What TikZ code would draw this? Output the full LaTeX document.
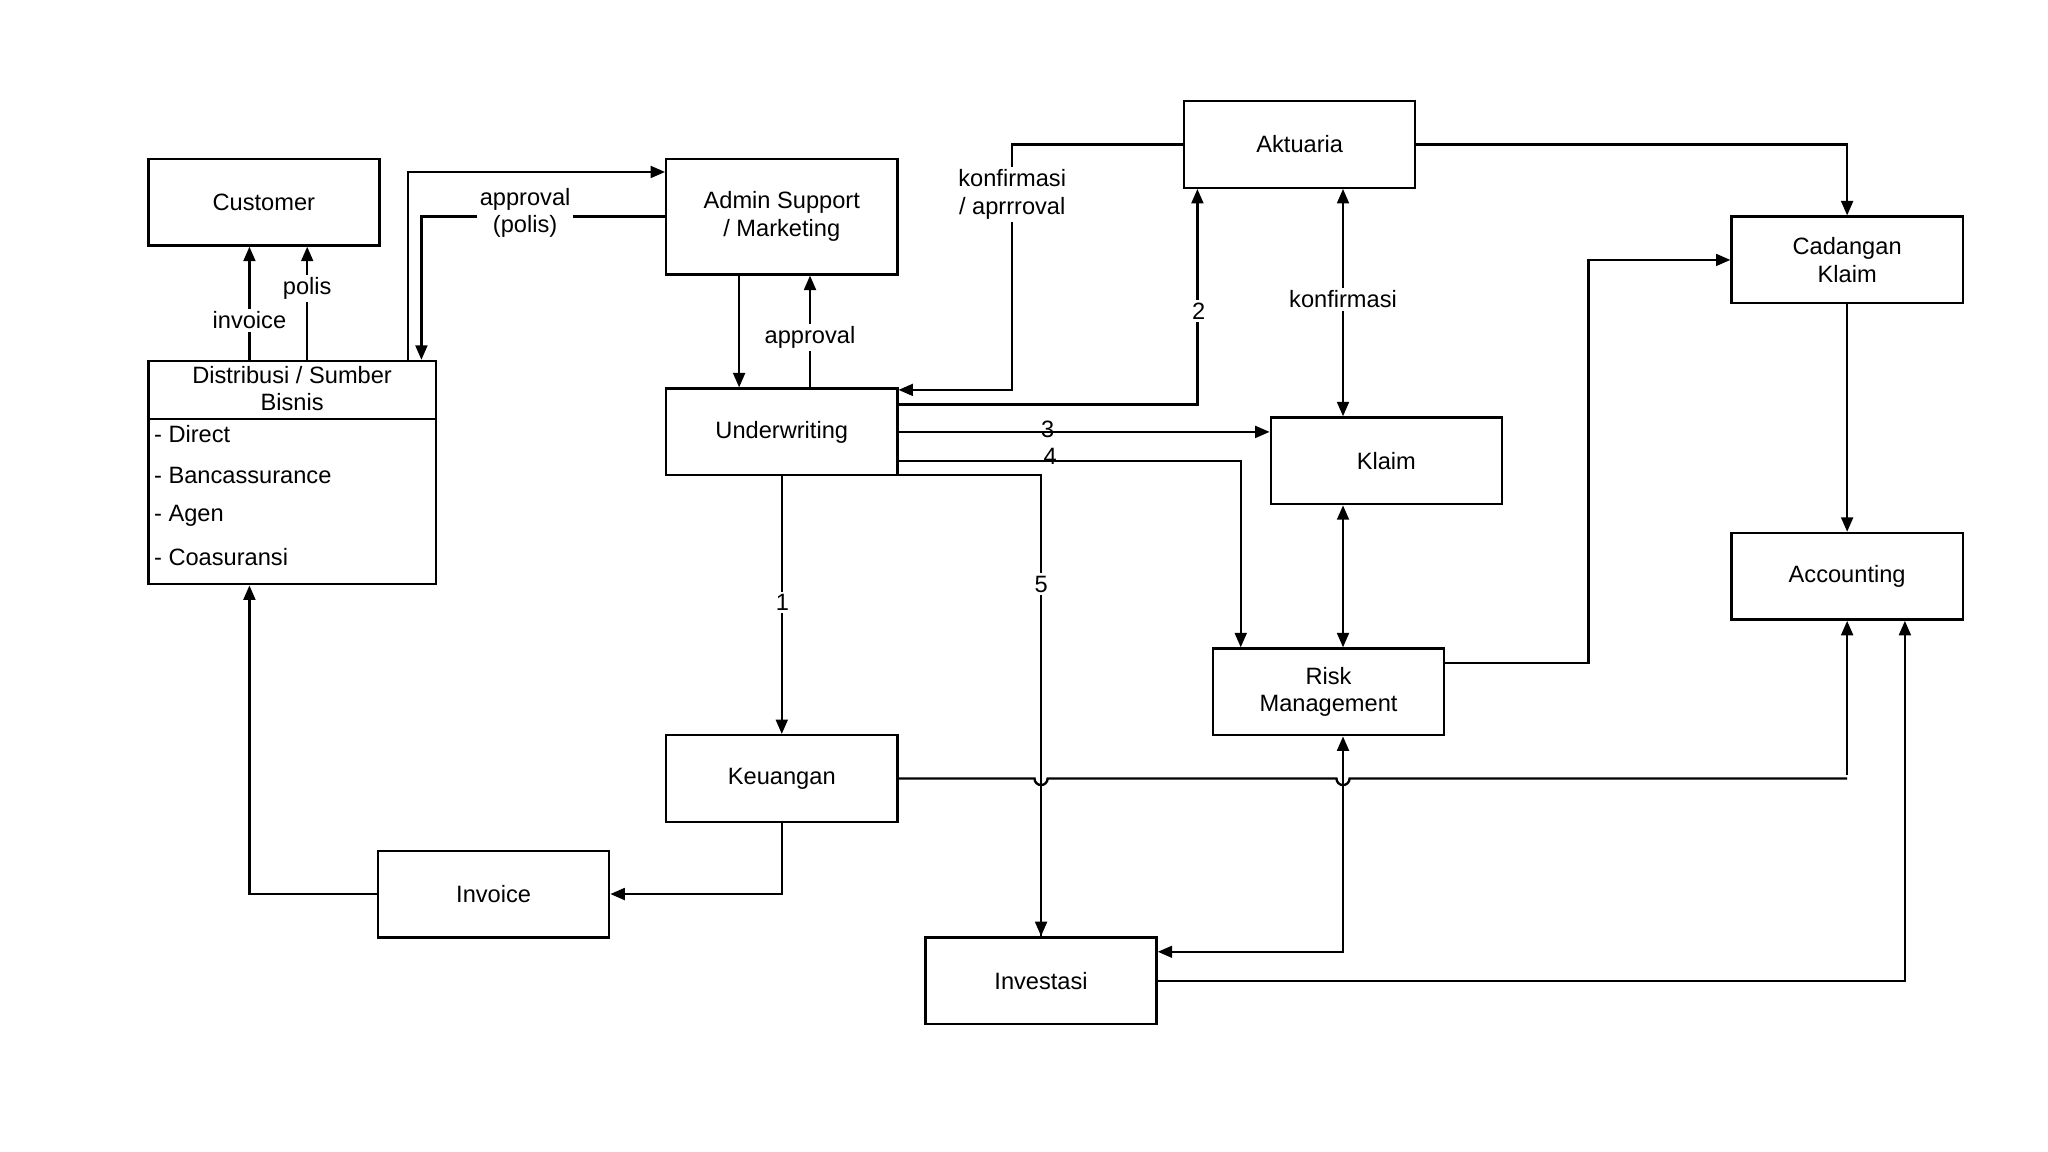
\documentclass[tikz,border=0pt]{standalone}
\usepackage{fontspec}
\setmainfont{Liberation Sans}
\usetikzlibrary{arrows.meta,calc}
\begin{document}
\begin{tikzpicture}[x=0.5pt,y=-0.5pt,
  box/.style={draw,line width=0.9pt,minimum width=88pt,minimum height=33pt,align=center,inner sep=1pt,font=\fontsize{9}{10.5}\selectfont},
  ln/.style={line width=0.9pt},
  ar/.style={ln,-{Triangle[length=5.5pt,width=4.5pt]}},
  da/.style={ln,{Triangle[length=5.5pt,width=4.5pt]}-{Triangle[length=5.5pt,width=4.5pt]}},
  lb/.style={fill=white,inner sep=1pt,align=center,font=\fontsize{9}{10.5}\selectfont}]
\useasboundingbox (0,0) rectangle (1560,877.5);
\node[box] (cust) at (201,154) {Customer};
\node[box,minimum width=109.5pt,minimum height=85pt] (dist) at (222.5,360) {};
\draw[ln] (dist.west|-0,319) -- (dist.east|-0,319);
\node[lb,fill=none] at (222.5,296) {Distribusi / Sumber\\Bisnis};
\foreach \t/\y in {Direct/331,Bancassurance/362,Agen/393,Coasuransi/424}
  \node[lb,fill=none,anchor=west] at (115,\y) {- \t};
\node[box,minimum height=44pt] (adm) at (595.5,165) {Admin Support\\/ Marketing};
\node[box] (uw) at (595.5,329) {Underwriting};
\node[box] (akt) at (990,110) {Aktuaria};
\node[box] (cad) at (1407,198) {Cadangan\\Klaim};
\node[box] (kl) at (1056,351) {Klaim};
\node[box] (acc) at (1407,439) {Accounting};
\node[box] (risk) at (1012,527) {Risk\\Management};
\node[box] (keu) at (595.5,593) {Keuangan};
\node[box] (inv) at (376,681) {Invoice};
\node[box] (ivs) at (793,747) {Investasi};
% Distribusi - Customer
\draw[ar] ($(dist.north)+(-32.5,0)$) -- ($(cust.south)+(-11,0)$);
\draw[ar] ($(dist.north)+(11.5,0)$) -- ($(cust.south)+(33,0)$);
\node[lb] at (190,244) {invoice};
\node[lb] at (234,220) {polis};
% Distribusi - Admin
\draw[ar] ($(dist.north)+(88.5,0)$) |- ($(adm.west)+(0,-34)$);
\draw[ar] (adm.west) -| ($(dist.north)+(98.5,0)$);
\node[lb] at (400,162) {approval\\(polis)};
% Admin - UW
\draw[ar] ($(adm.south)+(-32.5,0)$) -- ($(uw.north)+(-32.5,0)$);
\draw[ar] ($(uw.north)+(21.5,0)$) -- ($(adm.south)+(21.5,0)$);
\node[lb] at (617,257) {approval};
% Aktuaria -> UW
\draw[ar] (akt.west) -| (771,297) -- ($(uw.east)+(0,-32)$);
\node[lb] at (771,148) {konfirmasi\\/ aprrroval};
% UW -> Aktuaria (2)
\draw[ar] ($(uw.east)+(0,-21)$) -| ($(akt.south west)+(11,0)$);
\node[lb] at (913,237) {2};
% Aktuaria <-> Klaim
\draw[da] ($(akt.south)+(33,0)$) -- ($(kl.north)+(-33,0)$);
\node[lb] at (1023,228) {konfirmasi};
% UW -> Klaim (3)
\draw[ar] (uw.east) -- (kl.west|-uw.east);
\node[lb,fill=none] at (798,327) {3};
% UW -> Risk (4)
\draw[ar] ($(uw.east)+(0,22)$) -| ($(risk.north west)+(22,0)$);
\node[lb,fill=none] at (800,348) {4};
% UW -> Investasi (5)
\draw[ln] ($(uw.east)+(0,33)$) -- (793,362) -- (ivs.north);
\draw[ar] (793,700) -- (ivs.north);
\node[lb] at (793,445) {5};
% UW -> Keuangan (1)
\draw[ar] (uw.south) -- (keu.north);
\node[lb] at (596,459) {1};
% Klaim <-> Risk
\draw[da] ($(kl.south)+(-33,0)$) -- ($(risk.north)+(11,0)$);
% Aktuaria -> Cadangan
\draw[ar] (akt.east) -| (cad.north);
% Risk -> Cadangan
\draw[ar] ($(risk.east)+(0,-22)$) -| (1210,198) -- (cad.west);
% Cadangan -> Accounting
\draw[ar] (cad.south) -- (acc.north);
% Keuangan -> Accounting with hops
\draw[ln] (keu.east) -- (788,593) arc[start angle=180,end angle=0,radius=5] -- (1018,593) arc[start angle=180,end angle=0,radius=5] -- (1407,593);
\draw[ar] (1407,590) -- (acc.south);
% Keuangan -> Invoice
\draw[ar] (keu.south) |- (inv.east);
% Invoice -> Distribusi
\draw[ar] (inv.west) -| ($(dist.south)+(-32.5,0)$);
% Risk <-> Investasi
\draw[da] ($(risk.south)+(11,0)$) |- ($(ivs.east)+(0,-22)$);
% Investasi -> Accounting
\draw[ar] (ivs.east) -| ($(acc.south)+(44,0)$);
\end{tikzpicture}
\end{document}
